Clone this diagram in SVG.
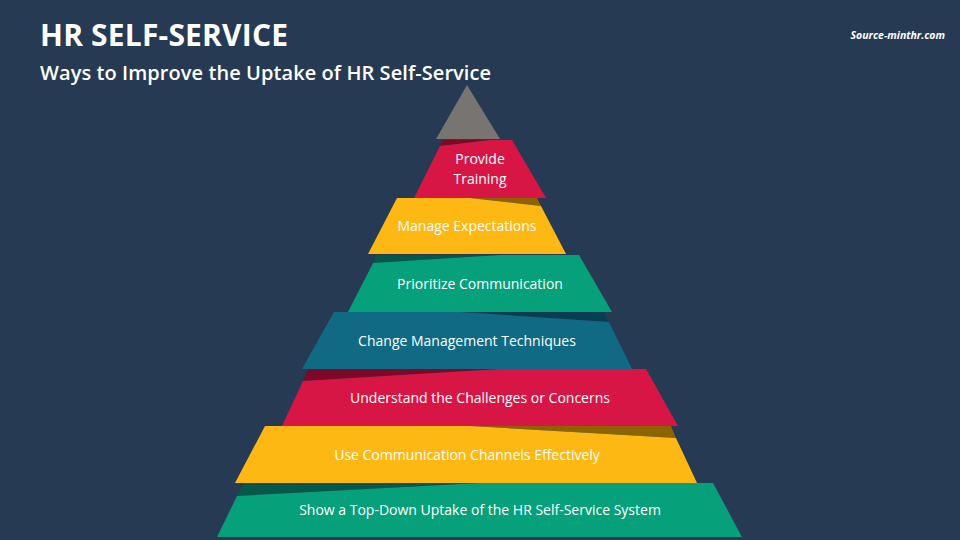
<svg xmlns="http://www.w3.org/2000/svg" width="960" height="540" viewBox="0 0 960 540">
<style>
.t{font-family:"Open Sans","Liberation Sans",sans-serif;font-size:14px;fill:#fff;text-anchor:middle}
.r{fill:#d81645}.rs{fill:#7a0a28}.y{fill:#fdb813}.ys{fill:#8c6305}.g{fill:#06a07a}.gs{fill:#05584a}.b{fill:#106a84}.bs{fill:#0b3d52}
</style>
<rect width="960" height="540" fill="#263a54"/>
<text x="40" y="46" font-family="'Open Sans','Liberation Sans',sans-serif" font-weight="bold" font-size="30" fill="#fff" textLength="248">HR SELF-SERVICE</text>
<text x="40" y="80" font-family="'Open Sans','Liberation Sans',sans-serif" font-weight="600" font-size="20" fill="#fff" textLength="451">Ways to Improve the Uptake of HR Self-Service</text>
<text x="945" y="39" text-anchor="end" font-family="'Open Sans','Liberation Sans',sans-serif" font-weight="bold" font-style="italic" font-size="10.5" fill="#fff">Source-minthr.com</text>
<g id="apex"><polygon points="467,85 500,139 436,139" fill="#787472"/></g>
<g id="n1"><polygon class="rs" points="443,140 490,140 440,146"/><polygon class="r" points="490,140 512,140 546,198 414,198 440,146"/><text class="t" x="480" y="164">Provide</text><text class="t" x="480" y="184">Training</text></g>
<g id="n2"><polygon class="ys" points="470,198 537,198 541,206"/><polygon class="y" points="397,198 470,198 541,206 566,254 368,254"/><text class="t" x="467" y="231">Manage Expectations</text></g>
<g id="n3"><polygon class="gs" points="377,255 500,255 373,263"/><polygon class="g" points="500,255 579,255 612,312 348,312 373,263"/><text class="t" x="480" y="289">Prioritize Communication</text></g>
<g id="n4"><polygon class="bs" points="460,312 604,312 609,322"/><polygon class="b" points="334,312 460,312 609,322 632,369 302,369"/><text class="t" x="467" y="346">Change Management Techniques</text></g>
<g id="n5"><polygon class="rs" points="308,369 500,369 303,381"/><polygon class="r" points="500,369 646,369 678,426 282,426 303,381"/><text class="t" x="480" y="403">Understand the Challenges or Concerns</text></g>
<g id="n6"><polygon class="ys" points="470,426 671,426 676,438"/><polygon class="y" points="265,426 470,426 676,438 697,483 235,483"/><text class="t" x="467" y="460">Use Communication Channels Effectively</text></g>
<g id="n7"><polygon class="gs" points="244,483 480,483 237,496"/><polygon class="g" points="480,483 713,483 742,537 217,537 237,496"/><text class="t" x="480" y="515">Show a Top-Down Uptake of the HR Self-Service System</text></g>
<g id="connectors"/>
</svg>
